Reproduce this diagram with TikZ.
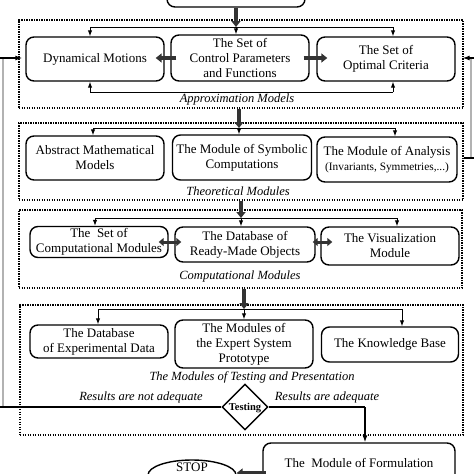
\documentclass[tikz,border=0pt]{standalone}
\usepackage{fontspec}
\setmainfont{Liberation Serif}
\usetikzlibrary{arrows.meta,shapes.geometric,calc}
\begin{document}
\begin{tikzpicture}[x=1pt,y=-1pt,
  mbox/.style={draw, rounded corners=8pt, line width=1.4pt, align=center, inner sep=0pt, font=\fontsize{13}{15}\selectfont},
  frm/.style={draw, line width=1.3pt, dash pattern=on 1.3pt off 1.2pt, inner sep=0pt},
  capt/.style={font=\fontsize{12.5}{14}\selectfont\itshape, inner sep=0pt},
  txt/.style={font=\fontsize{13}{15}\selectfont, inner sep=0pt},
  conn/.style={line width=1pt},
  tarr/.style={line width=1pt, -{Latex[length=6pt,width=4.5pt]}},
  fat/.style={line width=3.6pt, draw=black!80, -{Triangle[length=6pt,width=9pt]}},
  fatboth/.style={line width=3pt, draw=black!80, {Triangle[length=5pt,width=8pt]}-{Triangle[length=5pt,width=8pt]}},
  back/.style={line width=1.2pt},
  backarr/.style={line width=1.2pt, -{Latex[length=7pt,width=5pt]}},
  backv/.style={line width=1.8pt, draw=black!30},
]
\useasboundingbox (0,0) rectangle (474,474);
\clip (0,0) rectangle (474,474);
\fill[white] (0,0) rectangle (474,474);

% top box
\node[mbox, minimum width=138pt, minimum height=27pt] (T0) at (236,-6.5) {};

% frames
\node[frm, minimum width=444pt, minimum height=88pt] (F1) at (241,64) {};
\node[frm, minimum width=444pt, minimum height=77pt] (F2) at (241,161.5) {};
\node[frm, minimum width=443pt, minimum height=78pt] (F3) at (240.5,249) {};
\node[frm, minimum width=443pt, minimum height=130pt] (F4) at (241.5,370) {};

% row 1
\node[mbox, minimum width=138pt, minimum height=44pt] (A1) at (95,59) {Dynamical Motions};
\node[mbox, minimum width=138pt, minimum height=46pt] (A2) at (240,58) {The Set of\\Control Parameters\\and Functions};
\node[mbox, minimum width=138pt, minimum height=44pt] (A3) at (386,59) {The Set of\\Optimal Criteria};
\node[capt] (L1) at (237,99) {Approximation Models};

% row 2
\node[mbox, minimum width=138pt, minimum height=44pt] (B1) at (95,158) {Abstract Mathematical\\Models};
\node[mbox, minimum width=139pt, minimum height=45pt] (B2) at (242,157.5) {The Module of Symbolic\\Computations};
\node[mbox, minimum width=140pt, minimum height=45pt] (B3) at (387,159.5) {The Module of Analysis\\{\fontsize{11.3}{13}\selectfont (Invariants, Symmetries,...)}};
\node[capt] (L2) at (238,191) {Theoretical Modules};

% row 3
\node[mbox, minimum width=138pt, minimum height=31pt] (C1) at (99,242) {The\ \ Set of\\Computational Modules};
\node[mbox, minimum width=140pt, minimum height=35pt] (C2) at (245,244.5) {The Database of\\Ready-Made Objects};
\node[mbox, minimum width=138pt, minimum height=38pt] (C3) at (390,246) {The Visualization\\Module};
\node[capt] (L3) at (240,276) {Computational Modules};

% row 4
\node[mbox, minimum width=138pt, minimum height=33pt] (D1) at (99,341.5) {The Database\\of Experimental Data};
\node[mbox, minimum width=138pt, minimum height=48pt] (D2) at (244,344) {The Modules of\\the Expert System\\Prototype};
\node[mbox, minimum width=137pt, minimum height=35pt] (D3) at (390,344.5) {The Knowledge Base};
\node[capt] (L4) at (252,377) {The Modules of Testing and Presentation};
\node[capt] (L5) at (141,397) {Results are not adequate};
\node[capt] (L6) at (327,397) {Results are adequate};

% testing diamond
\node[diamond, draw, line width=1.4pt, minimum width=46pt, minimum height=46pt, inner sep=0pt] (T) at (245,407) {};
\node[font=\bfseries\fontsize{10.5}{12}\selectfont, inner sep=0pt] (Tt) at (245,408) {Testing};

% bottom
\node[mbox, minimum width=192pt, minimum height=64pt] (E) at (359,475) {};
\node[txt] (Et) at (359,463) {The\ \ Module of Formulation};
\node[ellipse, draw, line width=1.4pt, minimum width=88pt, minimum height=30pt, inner sep=0pt] (S) at (192,475) {};
\node[txt] (St) at (192,467) {STOP};

% coordinates
\coordinate (d1c) at (236,27); \coordinate (d1l) at (90,27); \coordinate (d1r) at (393,27);
\coordinate (u1l) at (90,92); \coordinate (u1r) at (393,92);
\coordinate (d2c) at (239,128); \coordinate (d2l) at (93,128); \coordinate (d2r) at (395,128);
\coordinate (d3c) at (241,218); \coordinate (d3l) at (95,218); \coordinate (d3r) at (397,218);
\coordinate (d4c) at (244,309); \coordinate (d4l) at (98,309); \coordinate (d4r) at (402,309);

% row 1 connectors
\draw[fat] (T0.south) -- (d1c);
\draw[conn] (d1l) -- (d1r);
\draw[tarr] (d1l) -- (d1l |- A1.north);
\draw[tarr] (d1c) -- (d1c |- A2.north);
\draw[tarr] (d1r) -- (d1r |- A3.north);
\draw[conn] (u1l) -- (u1r);
\draw[tarr] (u1l) -- (u1l |- A1.south);
\draw[tarr] (u1r) -- (u1r |- A3.south);
\draw[fat] ($(A2.west)+(6,0)$) -- ($(A1.east |- A2.west)+(-9,0)$);
\draw[fat] ($(A2.east)+(-6,0)$) -- ($(A3.west |- A2.east)+(11,0)$);

% row 2 connectors
\draw[fat] (d2c |- F1.south) -- (d2c);
\draw[conn] (d2l) -- (d2r);
\draw[tarr] (d2l) -- (d2l |- B1.north);
\draw[tarr] (d2c) -- (d2c |- B2.north);
\draw[tarr] (d2r) -- (d2r |- B3.north);

% row 3 connectors
\draw[fat] (d3c |- F2.south) -- (d3c);
\draw[conn] (d3l) -- (d3r);
\draw[tarr] (d3l) -- (d3l |- C1.north);
\draw[tarr] (d3c) -- (d3c |- C2.north);
\draw[tarr] (d3r) -- (d3r |- C3.north);
\draw[fatboth] ($(C1.east)+(-10,0)$) -- ($(C2.west |- C1.east)+(7,0)$);
\draw[fatboth] ($(C2.east |- C1.east)+(-3,0)$) -- ($(C3.west |- C1.east)+(12,0)$);

% row 4 connectors
\draw[fat] (d4c |- F3.south) -- (d4c);
\draw[conn] (d4l) -- (d4r);
\draw[tarr] (d4l) -- (d4l |- D1.north);
\draw[tarr] (d4c) -- (d4c |- D2.north);
\draw[tarr] (d4r) -- (d4r |- D3.north);

% feedback right
\coordinate (r0) at (474,158); \coordinate (r1) at (471,158);
\coordinate (r2) at (471,58); \coordinate (r3) at (474,58);
\draw[backv] (r1) -- (r2);
\draw[back] (r1 -| F2.east) -- (r0);
\draw[backarr] (r3) -- ($(r3 -| F1.east)+(-1,0)$);

% feedback left
\coordinate (l0) at (0,407); \coordinate (l1) at (3,407);
\coordinate (l2) at (3,58); \coordinate (l3) at (0,58);
\draw[backv] (l1) -- (l2);
\draw[back] (T.west) -- (l0);
\draw[backarr] (l3) -- ($(l3 -| F1.west)+(4,0)$);

% to formulation
\coordinate (t1) at (365,407);
\draw[back] (T.east) -- (t1);
\draw[backarr] (t1) -- (t1 |- E.north);

% to stop
\draw[fat] ([xshift=4pt,yshift=2pt]E.west) -- ([yshift=2pt]S.east);
\end{tikzpicture}
\end{document}
